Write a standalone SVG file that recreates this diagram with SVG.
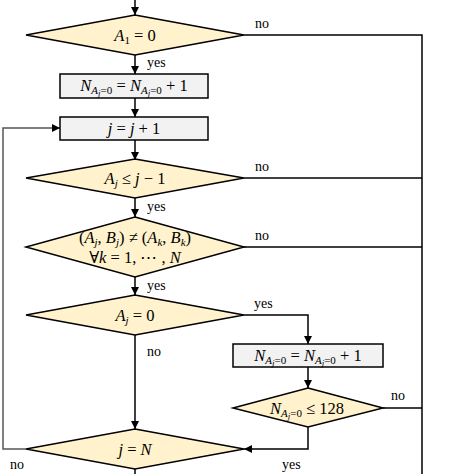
<svg xmlns="http://www.w3.org/2000/svg" width="474" height="474" viewBox="0 0 474 474">
<defs>
<marker id="arr" viewBox="0 0 10 10" refX="10" refY="5" markerWidth="8" markerHeight="8" markerUnits="userSpaceOnUse" orient="auto">
<path d="M0,0 L10,5 L0,10 z" fill="#000"/>
</marker>
</defs>
<style>
.dia{fill:#FFF2CC;stroke:#000;stroke-width:1.5}
.box{fill:#F2F2F2;stroke:#000;stroke-width:1.5}
.ln{fill:none;stroke:#000;stroke-width:1.5}
.ar{marker-end:url(#arr)}
.m{font-family:"Liberation Serif","DejaVu Serif",serif;font-size:16.5px;fill:#000}
.i{font-style:italic}
.s{font-size:11px}
.ss{font-size:9px}
.lab{font-family:"Liberation Serif","DejaVu Serif",serif;font-size:14px;fill:#000}
</style>
<rect width="474" height="474" fill="#fff"/>
<g id="connectors">
<path class="ln ar" d="M135,0 V15"/>
<path class="ln ar" d="M135,55 V74"/>
<path class="ln ar" d="M135,98 V117"/>
<path class="ln ar" d="M135,140 V160"/>
<path class="ln ar" d="M135,198 V217"/>
<path class="ln ar" d="M135,277 V295"/>
<path class="ln ar" d="M135,335 V429"/>
<path class="ln ar" d="M244,315 H308 V344"/>
<path class="ln ar" d="M308,367 V388"/>
<path class="ln ar" d="M308,427 V449 H244"/>
<path class="ln" d="M383,408 H422"/>
<path class="ln" d="M244,35 H422 V474"/>
<path class="ln" d="M244,178 H422"/>
<path class="ln" d="M244,247 H422"/>
<path class="ln ar" d="M26,449 H3 V128 H60" style="stroke:#555"/>
<path class="ln" d="M135,469 V474"/>
</g>
<g id="labels">
<text class="lab" x="255" y="28">no</text>
<text class="lab" x="147" y="67">yes</text>
<text class="lab" x="255" y="171">no</text>
<text class="lab" x="147" y="211">yes</text>
<text class="lab" x="255" y="240">no</text>
<text class="lab" x="147" y="290">yes</text>
<text class="lab" x="254" y="308">yes</text>
<text class="lab" x="147" y="356">no</text>
<text class="lab" x="391" y="400">no</text>
<text class="lab" x="282" y="469">yes</text>
<text class="lab" x="10" y="469">no</text>
</g>
<g id="d1">
<polygon class="dia" points="135,15 244,35 135,55 26,35"/>
<text class="m" x="135" y="41" text-anchor="middle"><tspan class="i">A</tspan><tspan class="s" dy="3">1</tspan><tspan dy="-3"> = 0</tspan></text>
</g>
<g id="b1">
<rect class="box" x="60" y="74" width="148" height="24"/>
<text class="m" x="134" y="91" text-anchor="middle"><tspan class="i">N</tspan><tspan class="i s" dy="3">A</tspan><tspan class="i ss" dy="2">j</tspan><tspan class="s" dy="-2">=0</tspan><tspan dy="-3"> = </tspan><tspan class="i">N</tspan><tspan class="i s" dy="3">A</tspan><tspan class="i ss" dy="2">j</tspan><tspan class="s" dy="-2">=0</tspan><tspan dy="-3"> + 1</tspan></text>
</g>
<g id="b2">
<rect class="box" x="60" y="117" width="148" height="23"/>
<text class="m" x="134" y="134" text-anchor="middle"><tspan class="i">j</tspan> = <tspan class="i">j</tspan> + 1</text>
</g>
<g id="d2">
<polygon class="dia" points="135,159 244,178 135,198 26,178"/>
<text class="m" x="135" y="184" text-anchor="middle"><tspan class="i">A</tspan><tspan class="i s" dy="3">j</tspan><tspan dy="-3"> ≤ </tspan><tspan class="i">j</tspan> − 1</text>
</g>
<g id="d3">
<polygon class="dia" points="135,217 244,247 135,277 26,247"/>
<text class="m" x="135" y="243" text-anchor="middle">(<tspan class="i">A</tspan><tspan class="i s" dy="3">j</tspan><tspan dy="-3">, </tspan><tspan class="i">B</tspan><tspan class="i s" dy="3">j</tspan><tspan dy="-3">) ≠ (</tspan><tspan class="i">A</tspan><tspan class="i s" dy="3">k</tspan><tspan dy="-3">, </tspan><tspan class="i">B</tspan><tspan class="i s" dy="3">k</tspan><tspan dy="-3">)</tspan></text>
<text class="m" x="135" y="263" text-anchor="middle">∀<tspan class="i">k</tspan> = 1, ⋯ , <tspan class="i">N</tspan></text>
</g>
<g id="d4">
<polygon class="dia" points="135,295 244,315 135,335 26,315"/>
<text class="m" x="135" y="321" text-anchor="middle"><tspan class="i">A</tspan><tspan class="i s" dy="3">j</tspan><tspan dy="-3"> = 0</tspan></text>
</g>
<g id="b3">
<rect class="box" x="233" y="344" width="150" height="23"/>
<text class="m" x="308" y="361" text-anchor="middle"><tspan class="i">N</tspan><tspan class="i s" dy="3">A</tspan><tspan class="i ss" dy="2">j</tspan><tspan class="s" dy="-2">=0</tspan><tspan dy="-3"> = </tspan><tspan class="i">N</tspan><tspan class="i s" dy="3">A</tspan><tspan class="i ss" dy="2">j</tspan><tspan class="s" dy="-2">=0</tspan><tspan dy="-3"> + 1</tspan></text>
</g>
<g id="d5">
<polygon class="dia" points="308,388 383,408 308,427 233,408"/>
<text class="m" x="307" y="414" text-anchor="middle"><tspan class="i">N</tspan><tspan class="i s" dy="3">A</tspan><tspan class="i ss" dy="2">j</tspan><tspan class="s" dy="-2">=0</tspan><tspan dy="-3"> ≤ 128</tspan></text>
</g>
<g id="d6">
<polygon class="dia" points="135,429 244,449 135,469 26,449"/>
<text class="m" x="135" y="455" text-anchor="middle"><tspan class="i">j</tspan> = <tspan class="i">N</tspan></text>
</g>
</svg>
